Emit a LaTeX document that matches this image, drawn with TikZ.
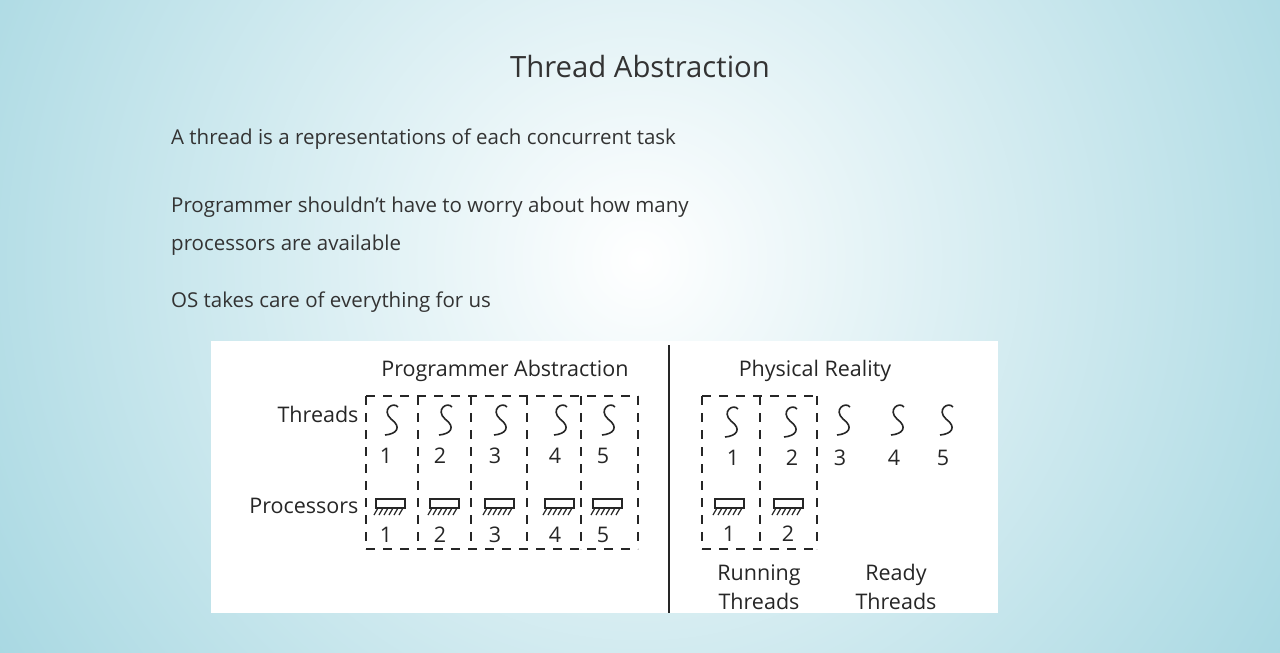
\documentclass[tikz,border=0pt]{standalone}
\usepackage{fontspec}
\setmainfont{Open Sans}
\begin{document}
\begin{tikzpicture}[x=1pt,y=-1pt,
  dline/.style={draw=black!85,line width=1.6pt,dash pattern=on 9pt off 8pt},
  lbl/.style={font=\fontsize{21.5}{26}\selectfont,text=black!85},
  body/.style={font=\fontsize{20.5}{30}\selectfont,text=black!80,anchor=west,inner sep=0},
  thr/.pic={\draw[line width=1.6pt,black!85] (7,-13) .. controls (2,-19) and (-10,-10) .. (0,-1) .. controls (11,7) and (6,14) .. (-6,15);},
  proc/.pic={\draw[line width=1.6pt,black!85] (-13,-6) rectangle (16,3);
    \foreach \i in {-11,-6,...,15}{\draw[line width=1.2pt,black!85] (\i,3) -- (\i-4,10);}}
]
\useasboundingbox (0,0) rectangle (1280,653);
\shade[inner color=white,outer color={rgb,255:red,168;green,216;blue,226}] (640,260) circle (760);
\clip (0,0) rectangle (1280,653);
\node[font=\fontsize{29.3}{32}\selectfont,text=black!80] (title) at (640,67) {Thread Abstraction};
\node[body] (t1) at (171,139) {A thread is a representations of each concurrent task};
\node[body] (t2) at (171,207) {Programmer shouldn't have to worry about how many};
\node[body] (t3) at (171,245) {processors are available};
\node[body] (t4) at (171,302) {OS takes care of everything for us};
\fill[white] (211,341) rectangle (998,613);
\draw[line width=2pt,black!85] (669,345) -- (669,613);
\node[lbl] (pa) at (505,371) {Programmer Abstraction};
\node[lbl] (pr) at (815,371) {Physical Reality};
\node[lbl,anchor=east] (th) at (362,414) {Threads};
\node[lbl,anchor=east] (pc) at (362,506) {Processors};
\draw[dline] (366,396) -- (638,396);
\draw[dline] (366,549) -- (638,549);
\foreach \a in {366,418,471,527,581,638} \draw[dline] (\a,396) -- (\a,549);
\draw[dline] (702,396) -- (817,396);
\draw[dline] (702,549) -- (817,549);
\foreach \a in {702,760,817} \draw[dline] (\a,396) -- (\a,549);
\foreach \x/\n in {391/1,445/2,500/3,560/4,608/5}{
  \pic at (\x,420) {thr};
  \node[lbl] at (\x-5,456) {\n};
  \pic at (\x-2,505) {proc};
  \node[lbl] at (\x-5,535) {\n};}
\foreach \x/\n in {731/1,790/2}{
  \pic at (\x,422) {thr};
  \node[lbl] at (\x+2,458) {\n};
  \pic at (\x-3,505) {proc};
  \node[lbl] at (\x-2,534) {\n};}
\foreach \x/\n in {843/3,897/4,946/5}{
  \pic at (\x,420) {thr};
  \node[lbl] at (\x-3,458) {\n};}
\node[lbl,align=center,font=\fontsize{21.5}{29}\selectfont] (rt) at (759,587) {Running\\Threads};
\node[lbl,align=center,font=\fontsize{21.5}{29}\selectfont] (rd) at (896,587) {Ready\\Threads};
\end{tikzpicture}
\end{document}
